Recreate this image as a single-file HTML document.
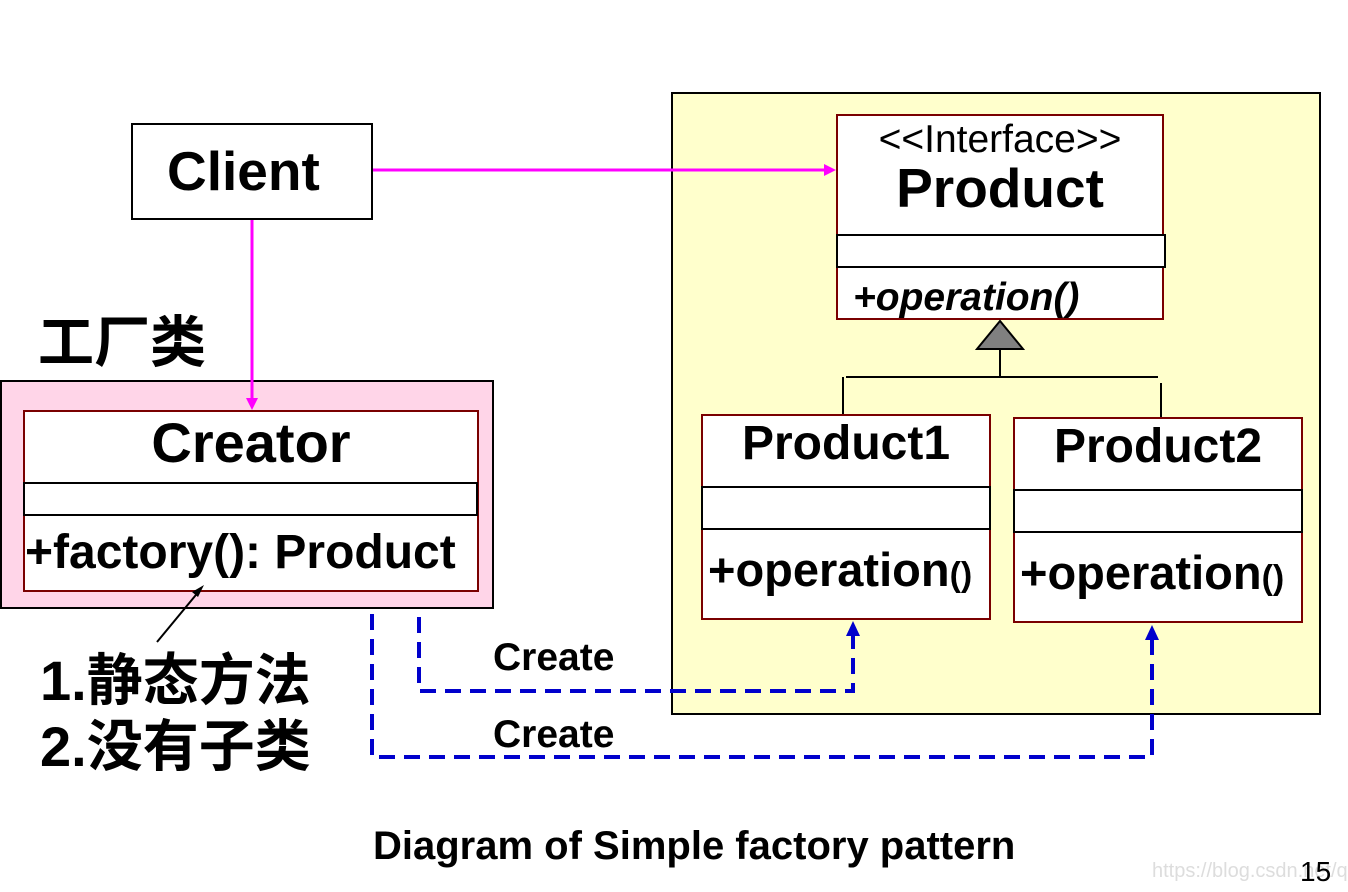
<!DOCTYPE html>
<html><head><meta charset="utf-8"><style>
body{margin:0;width:1348px;height:892px;background:#fff;position:relative;overflow:hidden;font-family:"Liberation Sans","Noto Sans CJK SC",sans-serif}
.a{position:absolute;box-sizing:border-box}
.t{position:absolute;white-space:nowrap;font-weight:bold;color:#000}
.cls{border:2px solid #7a0000;background:#fff}
</style></head><body>
<div class="a" style="left:671px;top:92px;width:650px;height:623px;background:#ffffcc;border:2px solid #000"></div>
<div class="a" style="left:0;top:380px;width:494px;height:229px;background:#ffd5e8;border:2px solid #000"></div>
<div class="a" style="left:131px;top:123px;width:242px;height:97px;border:2px solid #000;background:#fff"></div>
<div class="t" style="left:167px;top:139px;font-size:55px">Client</div>

<div class="a cls" style="left:836px;top:114px;width:328px;height:206px"></div>
<div class="a" style="left:836px;top:234px;width:330px;height:34px;border:2px solid #000;background:#fff"></div>
<div class="t" style="left:836px;width:328px;text-align:center;top:118px;font-size:39px;font-weight:normal">&lt;&lt;Interface&gt;&gt;</div>
<div class="t" style="left:836px;width:328px;text-align:center;top:156px;font-size:55px">Product</div>
<div class="t" style="left:853px;top:276px;font-size:39px;font-style:italic">+operation()</div>

<div class="a cls" style="left:701px;top:414px;width:290px;height:206px"></div>
<div class="a" style="left:701px;top:486px;width:290px;height:44px;border:2px solid #000;background:#fff"></div>
<div class="t" style="left:701px;width:290px;text-align:center;top:416px;font-size:48px">Product1</div>
<div class="t" style="left:708px;top:542px;font-size:47px">+operation<span style="font-size:34px">()</span></div>

<div class="a cls" style="left:1013px;top:417px;width:290px;height:206px"></div>
<div class="a" style="left:1013px;top:489px;width:290px;height:44px;border:2px solid #000;background:#fff"></div>
<div class="t" style="left:1013px;width:290px;text-align:center;top:419px;font-size:48px">Product2</div>
<div class="t" style="left:1020px;top:545px;font-size:47px">+operation<span style="font-size:34px">()</span></div>

<div class="a cls" style="left:23px;top:410px;width:456px;height:182px"></div>
<div class="a" style="left:23px;top:482px;width:455px;height:34px;border:2px solid #000;background:#fff"></div>
<div class="t" style="left:23px;width:456px;text-align:center;top:410px;font-size:56px">Creator</div>
<div class="t" style="left:25px;top:525px;font-size:48px">+factory(): Product</div>

<div class="t" style="left:38px;top:298px;font-size:56px">工厂类</div>
<div class="t" style="left:40px;top:648px;font-size:56px;line-height:66px">1.静态方法<br>2.没有子类</div>
<div class="t" style="left:493px;top:636px;font-size:39px">Create</div>
<div class="t" style="left:493px;top:713px;font-size:39px">Create</div>
<div class="t" style="left:373px;top:824px;font-size:40px">Diagram of Simple factory pattern</div>
<div class="t" style="left:1152px;top:860px;font-size:20px;font-weight:normal;color:#ddd">https://blog.csdn.net/qq_1</div>
<div class="t" style="left:1300px;top:856px;font-size:28px;font-weight:normal">15</div>

<svg class="a" style="left:0;top:0" width="1348" height="892">
<g stroke="#ff00ff" stroke-width="3" fill="#ff00ff">
<line x1="373" y1="170" x2="826" y2="170"/><polygon points="836,170 824,164 824,176" stroke="none"/>
<line x1="252" y1="220" x2="252" y2="400"/><polygon points="252,410 246,398 258,398" stroke="none"/>
</g>
<g stroke="#000" stroke-width="2" fill="none">
<line x1="1000" y1="348" x2="1000" y2="377"/>
<line x1="846" y1="377" x2="1158" y2="377"/>
<line x1="843" y1="377" x2="843" y2="414"/>
<line x1="1161" y1="383" x2="1161" y2="417"/>
<polygon points="1000,321 977,349 1023,349" fill="#808080"/>
<line x1="157" y1="642" x2="200" y2="590"/>
</g>
<polygon points="204,585 192,592 198,597" fill="#000"/>
<g stroke="#0000cc" stroke-width="4" fill="none" stroke-dasharray="16,9">
<polyline points="419,617 419,691 853,691 853,632"/>
<polyline points="372,614 372,757 1152,757 1152,636"/>
</g>
<polygon points="853,621 846,636 860,636" fill="#0000cc"/>
<polygon points="1152,625 1145,640 1159,640" fill="#0000cc"/>
</svg>
</body></html>
